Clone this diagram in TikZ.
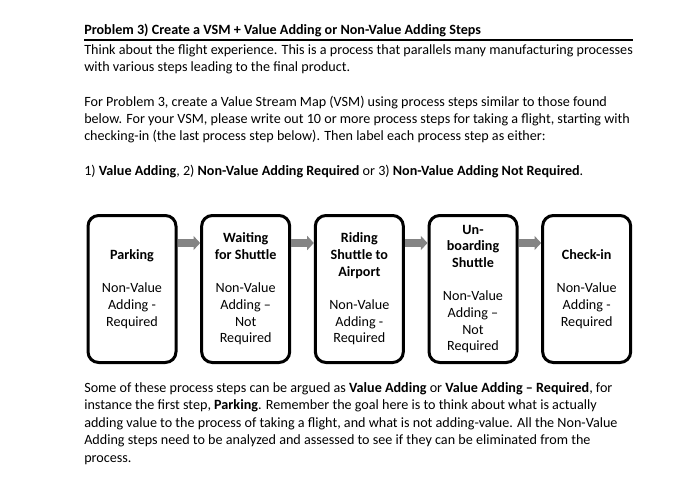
\documentclass[tikz,border=0pt]{standalone}
\usepackage{fontspec}
\setmainfont{Carlito}
\usetikzlibrary{arrows.meta,positioning}
\definecolor{vsmG}{RGB}{132,132,132}

\begin{document}
\begin{tikzpicture}[x=0.75pt,y=-0.75pt,
  txt/.style={font=\fontsize{10.6}{13.1}\selectfont,inner sep=0pt,align=left,anchor=base west},
  stepbox/.style={draw,line width=2.25pt,rounded corners=8pt,minimum width=66pt,minimum height=110.25pt,align=center,inner sep=0pt,font=\fontsize{10.6}{12.5}\selectfont},
  flow/.style={vsmG,line width=5.6pt,-{Triangle[length=5pt,width=10.5pt]}}]
\useasboundingbox (0,0) rectangle (700,485);
% heading and task text (placed at the baseline of the last line)
\node[txt] (head) at (84,34.3) {\bfseries Problem 3) Create a VSM + Value Adding or Non-Value Adding Steps};
\draw[line width=1.5pt] (84,40.5) -- (633,40.5);
\node[txt] (intro) at (84,72) {Think about the flight experience. This is a process that parallels many manufacturing processes\\with various steps leading to the final product.};
\node[txt] (task) at (84,141) {For Problem 3, create a Value Stream Map (VSM) using process steps similar to those found\\below. For your VSM, please write out 10 or more process steps for taking a flight, starting with\\checking-in (the last process step below). Then label each process step as either:};
\node[txt] (kinds) at (84,175) {1) \textbf{Value Adding}, 2) \textbf{Non-Value Adding Required} or 3) \textbf{Non-Value Adding Not Required}.};
% process steps
\node[stepbox] (park) at (132,289) {\textbf{Parking}\\[12.5pt]Non-Value\\Adding -\\Required};
\node[stepbox,right=17pt of park] (wait) {\textbf{Waiting}\\\textbf{for Shuttle}\\[12.5pt]Non-Value\\Adding --\\Not\\Required};
\node[stepbox,right=17pt of wait] (ride) {\textbf{Riding}\\\textbf{Shuttle to}\\\textbf{Airport}\\[12.5pt]Non-Value\\Adding -\\Required};
\node[stepbox,right=17pt of ride] (unboard) {\textbf{Un-}\\\textbf{boarding}\\\textbf{Shuttle}\\[12.5pt]Non-Value\\Adding --\\Not\\Required};
\node[stepbox,right=17pt of unboard] (checkin) {\textbf{Check-in}\\[12.5pt]Non-Value\\Adding -\\Required};
\foreach \a/\b in {park/wait,wait/ride,ride/unboard,unboard/checkin}
  \draw[flow] ([yshift=34.5pt]\a.east) -- ([yshift=34.5pt]\b.west);
% closing remark
\node[txt] (remark) at (84,462) {Some of these process steps can be argued as \textbf{Value Adding} or \textbf{Value Adding -- Required}, for\\instance the first step, \textbf{Parking}. Remember the goal here is to think about what is actually\\adding value to the process of taking a flight, and what is not adding-value. All the Non-Value\\Adding steps need to be analyzed and assessed to see if they can be eliminated from the\\process.};
\end{tikzpicture}
\end{document}
